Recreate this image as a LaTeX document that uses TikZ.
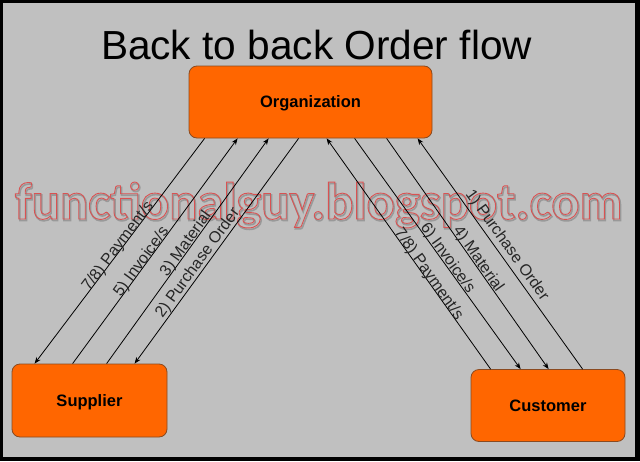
\documentclass[tikz,border=0pt]{standalone}
\usepackage{fontspec}
\setmainfont{Liberation Sans}
\newfontfamily\markfont{Carlito}
\usetikzlibrary{arrows.meta,positioning}
\definecolor{panelgray}{HTML}{C0C0C0}
\definecolor{boxorange}{HTML}{FF6600}
\definecolor{boxedge}{HTML}{8A4A20}
% stroked letters: stroke colour, line width, text
\newcommand{\strokedtext}[3]{\special{pdf:code q #1 RG #2 w 1 Tr}#3\special{pdf:code 0 Tr Q}}

\begin{document}
\begin{tikzpicture}[
    x=1pt,y=-1pt,
    every node/.style={align=center},
    party/.style={rectangle,rounded corners=8pt,draw=boxedge,fill=boxorange,line width=0.8pt,text height=12pt,text depth=1pt,font=\fontsize{16.5}{18}\selectfont\bfseries},
    title/.style={font=\fontsize{40.6}{46}\selectfont,inner sep=0pt},
    watermark/.style={font=\fontsize{52.6}{60}\selectfont\markfont\bfseries,inner sep=0pt},
    arrow/.style={-{Stealth[length=6.5pt,width=5pt]},line width=0.8pt},
    flowlabel/.style={sloped,inner sep=1.5pt,font=\fontsize{16}{18}\selectfont,text=black!85}
]
\useasboundingbox (0,0) rectangle (640,461);

% =====================
% BACKGROUND
% =====================
\fill[black] (0,0) rectangle (640,461);
\fill[panelgray] (3,3) rectangle (635,457);

% =====================
% TITLE AND BOXES
% =====================
\node[title] (heading) at (316.5,45) {Back to back Order flow};

\node[party,minimum width=243pt,minimum height=72pt] (org) at (310.5,102) {Organization};
\node[party,minimum width=155pt,minimum height=73pt] (supplier) at (89.5,400.5) {Supplier};
\node[party,minimum width=154pt,minimum height=72pt] (customer) at (548,405.5) {Customer};

% =====================
% WATERMARK
% =====================
\node[watermark] (shade) at (319.5,206.5) {\strokedtext{0.6 0.6 0.6}{1.6}{functionalguy.blogspot.com}};
\node[watermark] (mark) at (318.5,205) {\strokedtext{0.85 0.32 0.32}{0.9}{functionalguy.blogspot.com}};

% =====================
% SUPPLIER SIDE
% =====================
\draw[arrow] ([xshift=16pt]org.south west) -- ([xshift=23pt]supplier.north west)
    node[flowlabel,pos=.49,above=-5.5pt] {7/8) Payment/s};
\draw[arrow] ([xshift=61pt]supplier.north west) -- ([xshift=49pt]org.south west)
    node[flowlabel,pos=.44,above=-5pt] {5) Invoice/s};
\draw[arrow] ([xshift=95pt]supplier.north west) -- ([xshift=80pt]org.south west)
    node[flowlabel,pos=.517,above=-4pt] {3) Material};
\draw[arrow] ([xshift=110pt]org.south west) -- ([xshift=123pt]supplier.north west)
    node[flowlabel,pos=.575,above=-1.5pt] {2) Purchase Order};

% =====================
% CUSTOMER SIDE
% =====================
\draw[arrow] ([xshift=20pt]customer.north west) -- ([xshift=138pt]org.south west)
    node[flowlabel,pos=.40,above=-5pt] {7/8) Payment/s};
\draw[arrow] ([xshift=166pt]org.south west) -- ([xshift=50pt]customer.north west)
    node[flowlabel,pos=.533,above=-4pt] {6) Invoice/s};
\draw[arrow] ([xshift=198pt]org.south west) -- ([xshift=78pt]customer.north west)
    node[flowlabel,pos=.537,above=-4pt] {4) Material};
\draw[arrow] ([xshift=112pt]customer.north west) -- ([xshift=229pt]org.south west)
    node[flowlabel,pos=.51,above=1pt] {1) Purchase Order};

\end{tikzpicture}
\end{document}
